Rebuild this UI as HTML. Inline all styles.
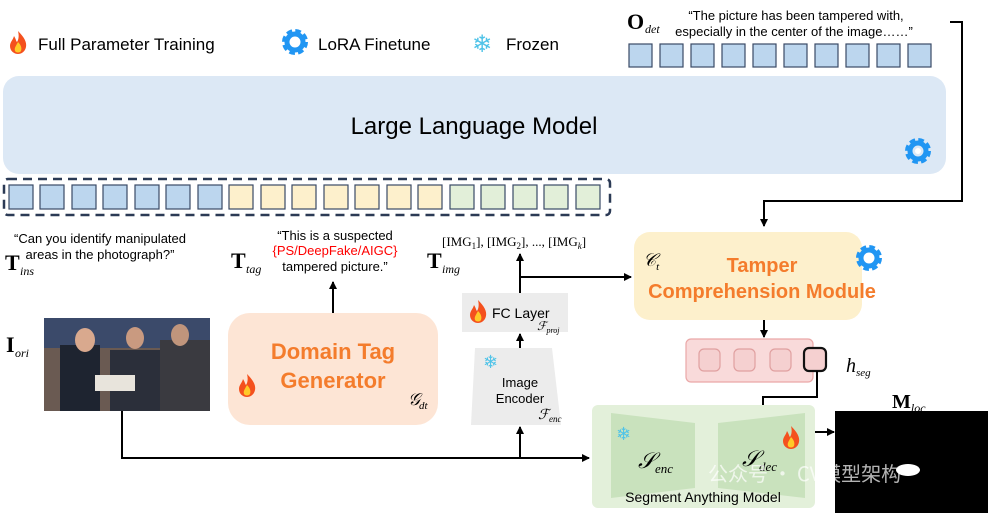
<!DOCTYPE html>
<html><head><meta charset="utf-8"><style>
body{margin:0;background:#fff;}
svg{display:block;}
.c{font-family:"Comic Sans MS","Liberation Sans",sans-serif;}
.s{font-family:"Liberation Serif",serif;}
</style></head><body>
<svg width="999" height="517" viewBox="0 0 999 517" xmlns="http://www.w3.org/2000/svg">
<defs>
<marker id="a" markerWidth="8" markerHeight="8" refX="7" refY="4" orient="auto" markerUnits="userSpaceOnUse"><path d="M0,0 L8,4 L0,8 z" fill="#000"/></marker>
<g id="fire"><path d="M0,-12 C6,-6 9,-1 8,4 C7,9 3,11 0,11 C-4,11 -8,8 -8,3 C-8,-1 -5,-3 -4,-7 C-2,-4 -2,-2 -1,-1 C1,-4 1,-8 0,-12z" fill="#f4511e"/><path d="M0,-1 C3,2 4,5 3,8 C2,10 -2,10 -3,8 C-4,5 -2,3 0,-1z" fill="#ffca28"/></g>
<g id="gear"><circle r="10" fill="none" stroke="#2196f3" stroke-width="6" stroke-dasharray="5 2.85"/><circle r="8" fill="none" stroke="#2196f3" stroke-width="5"/><circle r="3" fill="#fff"/></g>
</defs>

<!-- legend -->
<use href="#fire" x="18" y="43"/>
<text x="38" y="50" class="c" font-size="17">Full Parameter Training</text>
<use href="#gear" x="295" y="42"/>
<text x="318" y="50" class="c" font-size="17">LoRA Finetune</text>
<text x="472" y="52" font-size="24" fill="#4fc3e8" font-family="DejaVu Sans,sans-serif">❄</text>
<text x="506" y="50" class="c" font-size="17">Frozen</text>

<!-- output -->
<text x="627" y="29" class="s" font-size="22" font-weight="bold">O</text>
<text x="645" y="33" class="s" font-size="12" font-style="italic">det</text>
<text x="796" y="20" class="c" font-size="13" text-anchor="middle">“The picture has been tampered with,</text>
<text x="794" y="36" class="c" font-size="13" text-anchor="middle">especially in the center of the image……”</text>
<g fill="#bcd6ee" stroke="#3a4a66" stroke-width="1.2">
<rect x="629" y="44" width="23" height="23"/><rect x="660" y="44" width="23" height="23"/><rect x="691" y="44" width="23" height="23"/><rect x="722" y="44" width="23" height="23"/><rect x="753" y="44" width="23" height="23"/><rect x="784" y="44" width="23" height="23"/><rect x="815" y="44" width="23" height="23"/><rect x="846" y="44" width="23" height="23"/><rect x="877" y="44" width="23" height="23"/><rect x="908" y="44" width="23" height="23"/>
</g>
<polyline points="950,22 962,22 962,201 764,201 764,226" fill="none" stroke="#000" stroke-width="2" marker-end="url(#a)"/>

<!-- LLM -->
<rect x="3" y="76" width="943" height="98" rx="16" fill="#dce8f5"/>
<text x="474" y="134" class="c" font-size="24" text-anchor="middle">Large Language Model</text>
<use href="#gear" x="918" y="151"/>

<!-- token row -->
<rect x="4" y="179" width="606" height="36" rx="4" fill="none" stroke="#2b3a55" stroke-width="2.5" stroke-dasharray="9 6"/>
<g stroke="#3a4a66" stroke-width="1.2">
<rect x="9" y="185" width="24" height="24" fill="#bcd6ee"/><rect x="40" y="185" width="24" height="24" fill="#bcd6ee"/><rect x="72" y="185" width="24" height="24" fill="#bcd6ee"/><rect x="103" y="185" width="24" height="24" fill="#bcd6ee"/><rect x="135" y="185" width="24" height="24" fill="#bcd6ee"/><rect x="166" y="185" width="24" height="24" fill="#bcd6ee"/><rect x="198" y="185" width="24" height="24" fill="#bcd6ee"/>
<rect x="229" y="185" width="24" height="24" fill="#fdf0cc"/><rect x="261" y="185" width="24" height="24" fill="#fdf0cc"/><rect x="292" y="185" width="24" height="24" fill="#fdf0cc"/><rect x="324" y="185" width="24" height="24" fill="#fdf0cc"/><rect x="355" y="185" width="24" height="24" fill="#fdf0cc"/><rect x="387" y="185" width="24" height="24" fill="#fdf0cc"/><rect x="418" y="185" width="24" height="24" fill="#fdf0cc"/>
<rect x="450" y="185" width="24" height="24" fill="#e2efd9"/><rect x="481" y="185" width="24" height="24" fill="#e2efd9"/><rect x="513" y="185" width="24" height="24" fill="#e2efd9"/><rect x="544" y="185" width="24" height="24" fill="#e2efd9"/><rect x="576" y="185" width="24" height="24" fill="#e2efd9"/>
</g>

<!-- text inputs -->
<text x="100" y="243" class="c" font-size="13" text-anchor="middle">“Can you identify manipulated</text>
<text x="100" y="259" class="c" font-size="13" text-anchor="middle">areas in the photograph?”</text>
<text x="5" y="270" class="s" font-size="22" font-weight="bold">T</text>
<text x="20" y="275" class="s" font-size="12" font-style="italic">ins</text>
<text x="335" y="240" class="c" font-size="13" text-anchor="middle">“This is a suspected</text>
<text x="335" y="255" class="c" font-size="13" text-anchor="middle" fill="#f00">{PS/DeepFake/AIGC}</text>
<text x="335" y="271" class="c" font-size="13" text-anchor="middle">tampered picture.”</text>
<text x="231" y="268" class="s" font-size="22" font-weight="bold">T</text>
<text x="246" y="273" class="s" font-size="12" font-style="italic">tag</text>
<text x="427" y="268" class="s" font-size="22" font-weight="bold">T</text>
<text x="442" y="273" class="s" font-size="12" font-style="italic">img</text>
<text x="442" y="246" class="s" font-size="13">[IMG<tspan font-size="9" dy="3">1</tspan><tspan dy="-3">], [IMG</tspan><tspan font-size="9" dy="3">2</tspan><tspan dy="-3">], ..., [IMG</tspan><tspan font-size="9" dy="3" font-style="italic">k</tspan><tspan dy="-3">]</tspan></text>

<!-- image -->
<rect x="44" y="318" width="166" height="93" fill="#6a5a52"/>
<rect x="44" y="318" width="166" height="30" fill="#3b4a6a"/>
<rect x="60" y="345" width="40" height="66" fill="#1e2430"/>
<rect x="110" y="350" width="50" height="61" fill="#2b2f3a"/>
<rect x="160" y="340" width="50" height="71" fill="#3a3a40"/>
<ellipse cx="85" cy="340" rx="10" ry="12" fill="#d9a98e"/>
<ellipse cx="135" cy="338" rx="9" ry="11" fill="#c99a80"/>
<ellipse cx="180" cy="335" rx="9" ry="11" fill="#c0957c"/>
<rect x="95" y="375" width="40" height="16" fill="#e8e4dc"/>
<text x="6" y="352" class="s" font-size="22" font-weight="bold">I</text>
<text x="15" y="357" class="s" font-size="12" font-style="italic">ori</text>

<!-- DTG -->
<rect x="228" y="313" width="210" height="112" rx="22" fill="#fde5d5"/>
<text x="333" y="359" class="c" font-size="22" font-weight="bold" fill="#f47c2c" text-anchor="middle">Domain Tag</text>
<text x="333" y="388" class="c" font-size="22" font-weight="bold" fill="#f47c2c" text-anchor="middle">Generator</text>
<use href="#fire" x="247" y="386"/>
<text x="408" y="405" class="s" font-size="17" font-style="italic">𝒢</text>
<text x="419" y="409" class="s" font-size="11" font-style="italic">dt</text>
<line x1="333" y1="313" x2="333" y2="282" stroke="#000" stroke-width="2" marker-end="url(#a)"/>

<!-- FC & encoder -->
<rect x="462" y="293" width="106" height="39" fill="#ececec"/>
<use href="#fire" x="478" y="312"/>
<text x="492" y="318" class="c" font-size="14">FC Layer</text>
<text x="537" y="330" class="s" font-size="12" font-style="italic">ℱ<tspan font-size="8" dy="3">proj</tspan></text>
<polygon points="475,348 552,348 561,425 471,425" fill="#ececec"/>
<text x="483" y="368" font-size="18" fill="#4fc3e8" font-family="DejaVu Sans,sans-serif">❄</text>
<text x="520" y="387" class="c" font-size="13" text-anchor="middle">Image</text>
<text x="520" y="403" class="c" font-size="13" text-anchor="middle">Encoder</text>
<text x="538" y="419" class="s" font-size="14" font-style="italic">ℱ<tspan font-size="9" dy="3">enc</tspan></text>
<line x1="520" y1="458" x2="520" y2="427" stroke="#000" stroke-width="2" marker-end="url(#a)"/>
<line x1="520" y1="348" x2="520" y2="334" stroke="#000" stroke-width="2" marker-end="url(#a)"/>
<line x1="520" y1="293" x2="520" y2="254" stroke="#000" stroke-width="2" marker-end="url(#a)"/>
<line x1="520" y1="277" x2="631" y2="277" stroke="#000" stroke-width="2" marker-end="url(#a)"/>

<!-- TCM -->
<rect x="634" y="232" width="228" height="88" rx="16" fill="#fdf0cc"/>
<text x="643" y="266" class="s" font-size="18" font-style="italic">𝒞<tspan font-size="11" dy="4">t</tspan></text>
<text x="762" y="272" class="c" font-size="20" font-weight="bold" fill="#f47c2c" text-anchor="middle">Tamper</text>
<text x="762" y="298" class="c" font-size="20" font-weight="bold" fill="#f47c2c" text-anchor="middle">Comprehension Module</text>
<use href="#gear" x="869" y="258"/>
<line x1="764" y1="320" x2="764" y2="337" stroke="#000" stroke-width="2" marker-end="url(#a)"/>

<!-- h_seg -->
<rect x="686" y="339" width="127" height="43" rx="5" fill="#f9dada" stroke="#eaa8a8" stroke-width="1.2"/>
<g fill="#f5d0d0" stroke="#e0a0a0" stroke-width="1.2">
<rect x="699" y="349" width="21" height="22" rx="5"/><rect x="734" y="349" width="21" height="22" rx="5"/><rect x="770" y="349" width="21" height="22" rx="5"/>
</g>
<rect x="804" y="348" width="22" height="23" rx="5" fill="#f5d0d0" stroke="#111" stroke-width="2.2"/>
<text x="846" y="372" class="s" font-size="20" font-style="italic">h<tspan font-size="11" dy="4">seg</tspan></text>
<polyline points="817,371 817,397 763,397 763,427" fill="none" stroke="#000" stroke-width="2" marker-end="url(#a)"/>

<!-- SAM -->
<rect x="592" y="405" width="223" height="103" rx="6" fill="#e3f0da"/>
<polygon points="611,413 695,423 695,488 611,498" fill="#c9e2bd"/>
<polygon points="718,423 805,413 805,498 718,488" fill="#c9e2bd"/>
<text x="616" y="440" font-size="18" fill="#4fc3e8" font-family="DejaVu Sans,sans-serif">❄</text>
<use href="#fire" x="791" y="438"/>
<text x="638" y="468" class="s" font-size="22" font-style="italic">𝒮<tspan font-size="13" dy="5">enc</tspan></text>
<text x="742" y="466" class="s" font-size="22" font-style="italic">𝒮<tspan font-size="13" dy="5">dec</tspan></text>
<text x="703" y="502" class="c" font-size="14" text-anchor="middle">Segment Anything Model</text>
<polyline points="122,411 122,458 589,458" fill="none" stroke="#000" stroke-width="2" marker-end="url(#a)"/>
<line x1="815" y1="432" x2="834" y2="432" stroke="#000" stroke-width="2" marker-end="url(#a)"/>

<!-- mask -->
<rect x="835" y="411" width="153" height="102" fill="#000"/>
<ellipse cx="908" cy="470" rx="12" ry="6" fill="#fff"/>
<text x="892" y="408" class="s" font-size="20" font-weight="bold">M<tspan font-size="12" font-weight="normal" font-style="italic" dy="4">loc</tspan></text>
<text x="708" y="481" font-size="20" fill="#ffffff" fill-opacity="0.7" font-family="Noto Sans CJK SC,sans-serif">公众号 · CV模型架构</text>
</svg>
</body></html>
